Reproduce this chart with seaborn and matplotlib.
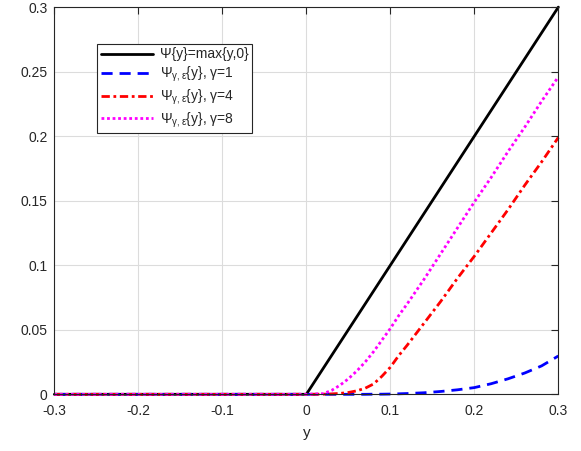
import numpy as np
import pandas as pd
import matplotlib
matplotlib.use('Agg')
import matplotlib.pyplot as plt
import seaborn as sns

# 读取自图中的数据点
x_max = [-0.3, 0.0, 0.3]
psi_max = [0.0, 0.0, 0.3]

x_s = [-0.3, 0.0, 0.02, 0.03, 0.04, 0.05, 0.06, 0.07, 0.08, 0.09, 0.10, 0.11, 0.12,
       0.14, 0.16, 0.18, 0.20, 0.22, 0.24, 0.26, 0.28, 0.30]
psi_g1 = [0.0, 0.0, 0.0, 0.0, 0.0, 0.0, 0.0, 0.0, 0.0001, 0.0001, 0.0002, 0.0004, 0.0006,
          0.0012, 0.0022, 0.0035, 0.0052, 0.0082, 0.012, 0.0165, 0.022, 0.0297]
psi_g4 = [0.0, 0.0, 0.0001, 0.0003, 0.0007, 0.0014, 0.0027, 0.0047, 0.008, 0.014, 0.021, 0.030, 0.038,
          0.055, 0.072, 0.090, 0.107, 0.125, 0.143, 0.162, 0.180, 0.199]
psi_g8 = [0.0, 0.0, 0.0005, 0.003, 0.007, 0.012, 0.018, 0.025, 0.033, 0.042, 0.051, 0.061, 0.070,
          0.089, 0.109, 0.129, 0.149, 0.168, 0.188, 0.207, 0.227, 0.246]

labels = ['Ψ{y}=max{y,0}',
          r'Ψ$_{γ,\epsilon}${y}, γ=1',
          r'Ψ$_{γ,\epsilon}${y}, γ=4',
          r'Ψ$_{γ,\epsilon}${y}, γ=8']

sns.set_style('white')
plt.rcParams['font.family'] = ['Liberation Sans', 'DejaVu Sans']
plt.rcParams['mathtext.default'] = 'regular'

fig = plt.figure(figsize=(5.81, 4.51), dpi=100)
ax = fig.add_axes([0.0935, 0.1257, 0.8675, 0.8585])

lw = 2.0
sns.lineplot(x=x_max, y=psi_max, ax=ax, color='black', lw=lw, label=labels[0], clip_on=False)
sns.lineplot(x=x_s, y=psi_g1, ax=ax, color='#0000ff', lw=lw, label=labels[1],
             dashes=(4, 2.5), clip_on=False)
sns.lineplot(x=x_s, y=psi_g4, ax=ax, color='#ff0000', lw=lw, label=labels[2],
             dashes=(3, 1.3, 1, 1.3), clip_on=False)
sns.lineplot(x=x_s, y=psi_g8, ax=ax, color='#ff00ff', lw=lw, label=labels[3],
             dashes=(1, 1), clip_on=False)

ax.set_xlim(-0.3, 0.3)
ax.set_ylim(0, 0.3)
xt = [-0.3, -0.2, -0.1, 0, 0.1, 0.2, 0.3]
yt = [0, 0.05, 0.1, 0.15, 0.2, 0.25, 0.3]
ax.set_xticks(xt)
ax.set_xticklabels(['-0.3', '-0.2', '-0.1', '0', '0.1', '0.2', '0.3'])
ax.set_yticks(yt)
ax.set_yticklabels(['0', '0.05', '0.1', '0.15', '0.2', '0.25', '0.3'])
ax.grid(True, color='#dcdcdc', lw=0.8)
ax.set_axisbelow(True)
ax.tick_params(direction='in', length=5, width=0.8, top=True, right=True,
               labelsize=10, colors='#262626', labelcolor='#262626')
ax.tick_params(axis='x', pad=7)
ax.tick_params(axis='y', pad=5)
for s in ax.spines.values():
    s.set_color('#262626')
    s.set_linewidth(0.8)
ax.set_xlabel('y', fontsize=11, color='#262626', labelpad=6)
ax.set_ylabel('')

leg = ax.legend(loc='upper left', bbox_to_anchor=(0.085, 0.905), fontsize=10,
                frameon=True, fancybox=False, edgecolor='#262626', framealpha=1,
                handlelength=3.8, borderaxespad=0, labelspacing=0.25,
                handletextpad=0.45, borderpad=0.25)
leg.get_frame().set_linewidth(0.8)

plt.savefig('out.png', dpi=100)
